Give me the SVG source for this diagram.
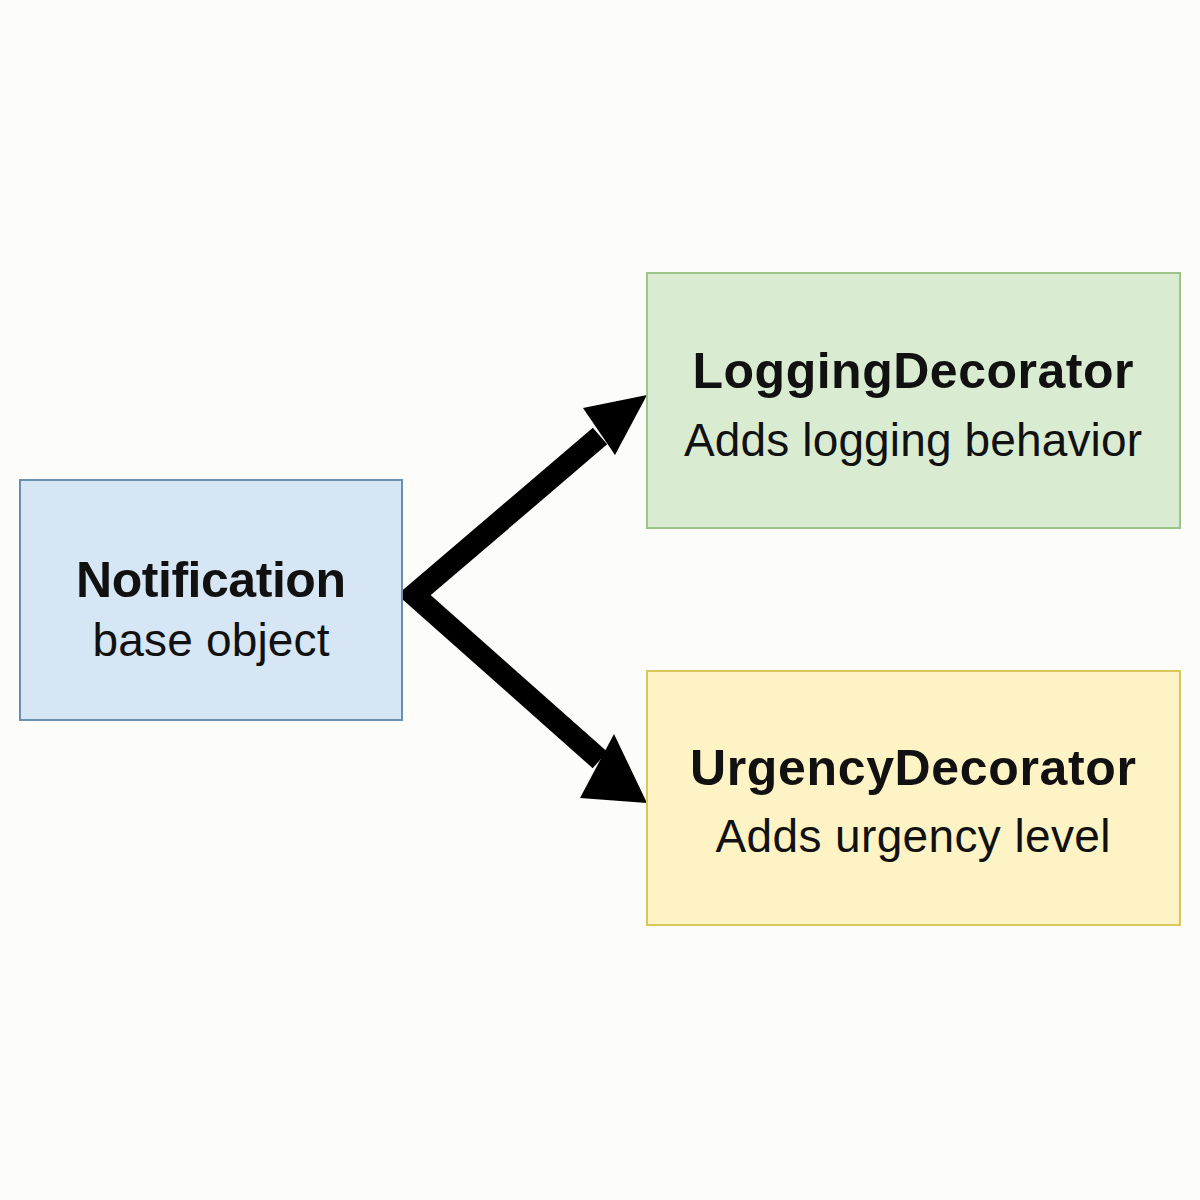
<svg xmlns="http://www.w3.org/2000/svg" width="1200" height="1200" viewBox="0 0 1200 1200">
<style>
.t{font-family:"Liberation Sans",Arial,sans-serif;text-anchor:middle;fill:#111}
.b{font-weight:bold;font-size:50px}
.s{font-size:46px}
</style>
<rect width="1200" height="1200" fill="#fcfcfa"/>
<g id="connectors">
<path d="M600 436 L414 595 L600 760" fill="none" stroke="#000" stroke-width="22" stroke-linejoin="miter"/>
<polygon points="647,395 583,408 615,455" fill="#000"/>
<polygon points="647,803 614,734 580,798" fill="#000"/>
</g>
<g id="notification">
<rect x="20" y="480" width="382" height="240" fill="#d6e6f5" stroke="#6a8fb0" stroke-width="2"/>
<text class="t b" x="211" y="597" textLength="270">Notification</text>
<text class="t s" x="211" y="656" textLength="237">base object</text>
</g>
<g id="logging">
<rect x="647" y="273" width="533" height="255" fill="#d9ecd2" stroke="#9cc58a" stroke-width="2"/>
<text class="t b" x="913" y="388" textLength="441">LoggingDecorator</text>
<text class="t s" x="913" y="456" textLength="458">Adds logging behavior</text>
</g>
<g id="urgency">
<rect x="647" y="671" width="533" height="254" fill="#fdf3c4" stroke="#d9c75a" stroke-width="2"/>
<text class="t b" x="913" y="785" textLength="446">UrgencyDecorator</text>
<text class="t s" x="913" y="852" textLength="395">Adds urgency level</text>
</g>
</svg>
